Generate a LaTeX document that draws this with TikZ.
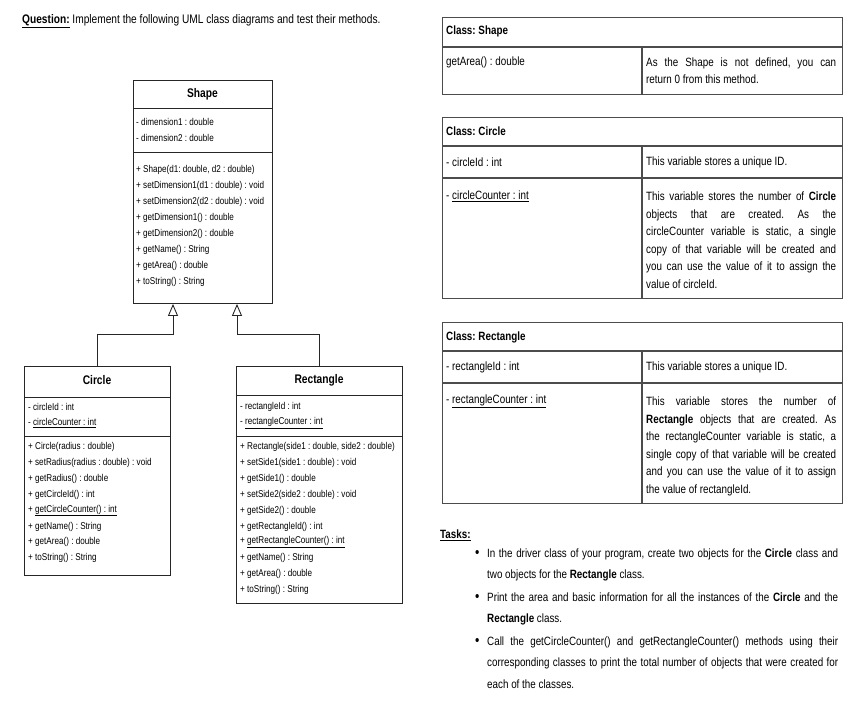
\documentclass[tikz,border=0pt]{standalone}
\usepackage{fontspec}
\setmainfont{Liberation Sans}[FakeStretch=0.82]
\usetikzlibrary{arrows.meta,calc}
\hyphenpenalty=10000 \exhyphenpenalty=10000 \hbadness=10000
\frenchspacing

\begin{document}
\begin{tikzpicture}[x=1pt, y=-1pt,
  umlbox/.style={draw=black!85, line width=0.9pt, anchor=north west, inner sep=0pt},
  umltitle/.style={inner sep=0pt, font=\fontsize{12.5}{14}\selectfont\bfseries},
  umltext/.style={anchor=west, inner sep=0pt, font=\fontsize{9.9}{11}\selectfont},
  inherit/.style={-{Triangle[open, width=10pt, length=12pt]}, line width=0.9pt, black!85},
  tblbox/.style={draw=black!70, line width=1.3pt, anchor=north west, inner sep=0pt},
  tblline/.style={draw=black!70, line width=1.3pt},
  tblhead/.style={anchor=west, inner sep=0pt, font=\fontsize{12}{14}\selectfont\bfseries},
  tbltext/.style={anchor=west, inner sep=0pt, font=\fontsize{12}{14}\selectfont},
  tblpara/.style={anchor=north west, inner sep=0pt, text width=190pt, align=justify,
    font=\fontsize{12}{17.6}\selectfont},
  taskpara/.style={anchor=north west, inner sep=0pt, text width=351pt, align=justify,
    font=\fontsize{12}{21.5}\selectfont},
]
  \useasboundingbox[fill=white] (0,0) rectangle (852,721);

  % 1. Question line
  \node[tbltext, font=\fontsize{12.4}{14}\selectfont] (question) at (22,21)
    {\underline{\textbf{Question:}} Implement the following UML class diagrams and test their methods.};

  % 2. UML class Shape
  \node[umlbox, minimum width=139pt, minimum height=223pt] (shape) at (133,80) {};
  \node[umltitle] (shapetitle) at (202.5,94) {Shape};
  \draw[black!85, line width=0.9pt] (133,108) -- (272,108);
  \draw[black!85, line width=0.9pt] (133,152) -- (272,152);
  \foreach \t [count=\i from 0] in {{- dimension1 : double}, {- dimension2 : double}}
    \node[umltext] at (136,122+16*\i) {\t};
  \foreach \t [count=\i from 0] in {{+ Shape(d1: double, d2 : double)},
      {+ setDimension1(d1 : double) : void}, {+ setDimension2(d2 : double) : void},
      {+ getDimension1() : double}, {+ getDimension2() : double},
      {+ getName() : String}, {+ getArea() : double}, {+ toString() : String}}
    \node[umltext] at (136,170+16*\i) {\t};

  % 3. UML class Circle
  \node[umlbox, minimum width=146pt, minimum height=209pt] (circle) at (24,366) {};
  \node[umltitle] (circletitle) at (97,380) {Circle};
  \draw[black!85, line width=0.9pt] (24,397) -- (170,397);
  \draw[black!85, line width=0.9pt] (24,436) -- (170,436);
  \foreach \t [count=\i from 0] in {{- circleId : int}, {- \underline{circleCounter : int}}}
    \node[umltext] at (28,407+16*\i) {\t};
  \foreach \t [count=\i from 0] in {{+ Circle(radius : double)},
      {+ setRadius(radius : double) : void}, {+ getRadius() : double},
      {+ getCircleId() : int}, {+ \underline{getCircleCounter() : int}},
      {+ getName() : String}, {+ getArea() : double}, {+ toString() : String}}
    \node[umltext] at (28,447+15.9*\i) {\t};

  % 4. UML class Rectangle
  \node[umlbox, minimum width=166pt, minimum height=237pt] (rect) at (236,366) {};
  \node[umltitle] (recttitle) at (319,380) {Rectangle};
  \draw[black!85, line width=0.9pt] (236,395) -- (402,395);
  \draw[black!85, line width=0.9pt] (236,436) -- (402,436);
  \foreach \t [count=\i from 0] in {{- rectangleId : int}, {- \underline{rectangleCounter : int}}}
    \node[umltext] at (240,407+16*\i) {\t};
  \foreach \t [count=\i from 0] in {{+ Rectangle(side1 : double, side2 : double)},
      {+ setSide1(side1 : double) : void}, {+ getSide1() : double},
      {+ setSide2(side2 : double) : void}, {+ getSide2() : double},
      {+ getRectangleId() : int}, {+ \underline{getRectangleCounter() : int}},
      {+ getName() : String}, {+ getArea() : double}, {+ toString() : String}}
    \node[umltext] at (240,447+15.9*\i) {\t};

  % 5. Inheritance
  \coordinate (cbend) at (173,334);
  \coordinate (rbend) at (237,334);
  \draw[inherit] (circle.north) |- (cbend) -- (cbend |- shape.south);
  \draw[inherit] (rect.north) |- (rbend) -- (rbend |- shape.south);

  % 6. Table: Shape
  \node[tblbox, minimum width=400pt, minimum height=77pt] (tshape) at (442,17) {};
  \draw[tblline] (442,47) -- (842,47);
  \draw[tblline] (642,47) -- (642,94);
  \node[tblhead] at (446,31) {Class: Shape};
  \node[tbltext] at (446,62) {getArea() : double};
  \node[tblpara] at (646,57.5)
    {As the Shape is not defined, you can\linebreak return 0 from this method.};

  % 7. Table: Circle
  \node[tblbox, minimum width=400pt, minimum height=181pt] (tcircle) at (442,117) {};
  \draw[tblline] (442,146) -- (842,146);
  \draw[tblline] (442,178) -- (842,178);
  \draw[tblline] (642,146) -- (642,298);
  \node[tblhead] at (446,131) {Class: Circle};
  \node[tbltext] at (446,162) {- circleId : int};
  \node[tbltext] at (646,162) {This variable stores a unique ID.};
  \node[tbltext] at (446,196) {- \underline{circleCounter : int}};
  \node[tblpara] at (646,191.5)
    {This variable stores the number of \textbf{Circle}\linebreak
     objects that are created. As the\linebreak
     circleCounter variable is static, a single\linebreak
     copy of that variable will be created and\linebreak
     you can use the value of it to assign the\linebreak
     value of circleId.};

  % 8. Table: Rectangle
  \node[tblbox, minimum width=400pt, minimum height=181pt] (trect) at (442,322) {};
  \draw[tblline] (442,351) -- (842,351);
  \draw[tblline] (442,383) -- (842,383);
  \draw[tblline] (642,351) -- (642,503);
  \node[tblhead] at (446,337) {Class: Rectangle};
  \node[tbltext] at (446,367) {- rectangleId : int};
  \node[tbltext] at (646,367) {This variable stores a unique ID.};
  \node[tbltext] at (446,401) {- \underline{rectangleCounter : int}};
  \node[tblpara] at (646,396.5)
    {This variable stores the number of\linebreak
     \textbf{Rectangle} objects that are created. As\linebreak
     the rectangleCounter variable is static, a\linebreak
     single copy of that variable will be created\linebreak
     and you can use the value of it to assign\linebreak
     the value of rectangleId.};

  % 9. Tasks
  \node[tblhead] (tasks) at (440,535) {\underline{Tasks:}};
  \foreach \y in {554,598,642}
    \node[tbltext, font=\fontsize{15}{16}\selectfont] at (475,\y) {\textbullet};
  \node[taskpara] (task1) at (487,548.5)
    {In the driver class of your program, create two objects for the \textbf{Circle} class and\linebreak
     two objects for the \textbf{Rectangle} class.};
  \node[taskpara] (task2) at (487,592.5)
    {Print the area and basic information for all the instances of the \textbf{Circle} and the\linebreak
     \textbf{Rectangle} class.};
  \node[taskpara] (task3) at (487,636.5)
    {Call the getCircleCounter() and getRectangleCounter() methods using their\linebreak
     corresponding classes to print the total number of objects that were created for\linebreak
     each of the classes.};
\end{tikzpicture}
\end{document}
